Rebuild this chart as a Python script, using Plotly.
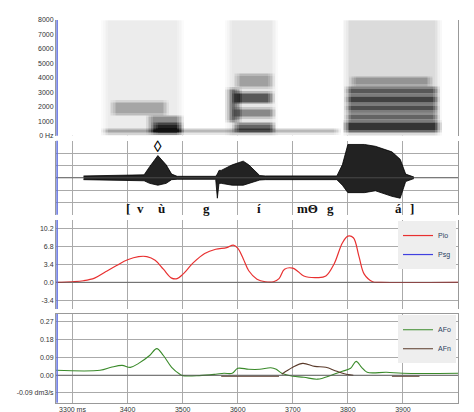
import numpy as np
import plotly.graph_objects as go

# ---- data ----
pio_t = [3270,3280,3300,3320,3340,3360,3380,3400,3420,3435,3450,3465,3480,3490,3500,3520,3540,3560,3580,3592,3600,3610,3620,3635,3650,3665,3675,3685,3700,3710,3720,3745,3760,3775,3790,3800,3810,3820,3830,3845,3860,4000]
pio_v = [0,0,0.1,0.3,0.8,2.0,3.2,4.3,4.9,4.9,4.2,2.5,0.8,0.7,1.5,3.8,5.5,6.3,6.6,7.1,6.5,4.5,2.2,0.6,0.1,0.1,0.7,2.5,2.7,2.0,1.2,0.9,1.2,3.5,7.5,8.8,8.5,5.0,1.5,0.1,0,0]
afo_t = [3270,3350,3370,3390,3405,3420,3440,3453,3465,3480,3495,3500,3530,3560,3575,3590,3600,3620,3640,3660,3670,3680,3700,3720,3745,3770,3790,3805,3815,3825,3835,3870,3900,4000]
afo_v = [0.025,0.025,0.04,0.05,0.04,0.06,0.1,0.135,0.1,0.04,0.005,-0.002,-0.002,0.005,0.01,0.01,0.035,0.03,0.03,0.038,0.03,0.01,-0.005,-0.01,-0.02,0.0,0.02,0.035,0.07,0.04,0.015,0.015,0.01,0.01]
afn_t = [3570,3675,None,3680,3700,3718,3740,3760,3780,3800,3810,None,3880,3930]
afn_v = [-0.005,-0.005,None,0.005,0.04,0.06,0.045,0.04,0.02,0.003,0.0,None,-0.005,-0.005]
# waveform envelope
wav_t  = [3320,3430,3440,3455,3470,3480,3490,3560,3563,3566,3570,3590,3610,3620,3640,3650,3780,3790,3800,3830,3850,3880,3895,3905,3920]
wav_up = [0.05,0.08,0.3,0.6,0.35,0.1,0.04,0.04,0.1,0.2,0.2,0.35,0.45,0.35,0.06,0.05,0.05,0.35,0.9,0.9,0.85,0.7,0.5,0.1,0.02]
wav_lo = [-0.05,-0.08,-0.15,-0.2,-0.15,-0.05,-0.04,-0.04,-0.55,-0.15,-0.15,-0.2,-0.2,-0.15,-0.06,-0.05,-0.05,-0.2,-0.4,-0.4,-0.35,-0.5,-0.55,-0.1,-0.02]
# spectrogram blobs: t0, t1, f0, f1, darkness
blobs = [
    (3358,3496,0,8000,0.08),(3375,3470,1500,2300,0.3),(3440,3495,200,1300,0.4),(3450,3495,200,800,0.45),
    (3358,3780,150,400,0.3),
    (3585,3667,0,8000,0.1),(3595,3660,2300,2900,0.6),(3585,3600,1000,3200,0.5),(3595,3665,1300,1800,0.4),(3595,3665,300,800,0.55),(3600,3660,3400,4200,0.3),
    (3797,3963,0,8000,0.15),(3797,3963,300,900,0.7),(3800,3960,1100,1500,0.5),(3800,3960,1700,2100,0.6),(3800,3960,2300,2700,0.65),(3800,3960,2900,3300,0.55),(3810,3950,3500,4000,0.3),
]
phon_t = [3401,3424,3462,3544,3638,3727,3769,3892,3916]
phon_s = ["[","v","ù","g","í","mΘ","g","á","]"]

# ---- figure ----
fig = go.Figure()
tg = np.arange(3270, 4001, 3)
fg = np.arange(0, 8001, 100)
Z = np.zeros((len(fg), len(tg)))
for t0, t1, f0, f1, lv in blobs:
    Z[np.ix_((fg >= f0) & (fg <= f1), (tg >= t0) & (tg <= t1))] += lv
kt = np.ones(5) / 5
kf = np.ones(3) / 3
Z = np.apply_along_axis(lambda r: np.convolve(r, kt, mode="same"), 1, Z)
Z = np.apply_along_axis(lambda c: np.convolve(c, kf, mode="same"), 0, Z)
Z = np.clip(Z, 0, 1)
fig.add_trace(go.Heatmap(x=tg, y=fg, z=Z, colorscale=[[0,"white"],[1,"#111"]], zmin=0, zmax=1, showscale=False, xaxis="x", yaxis="y4", hoverinfo="skip"))
fig.add_trace(go.Scatter(x=wav_t, y=wav_up, mode="lines", line=dict(color="black", width=0.8), xaxis="x", yaxis="y3", showlegend=False))
fig.add_trace(go.Scatter(x=wav_t, y=wav_lo, mode="lines", line=dict(color="black", width=0.8), fill="tonexty", fillcolor="#222", xaxis="x", yaxis="y3", showlegend=False))
fig.add_trace(go.Scatter(x=pio_t, y=pio_v, mode="lines", name="Pio", line=dict(color="#e83030", width=1.2, shape="spline"), xaxis="x", yaxis="y2", legend="legend"))
fig.add_trace(go.Scatter(x=[None], y=[None], mode="lines", name="Psg", line=dict(color="#4040e0", width=1.2), xaxis="x", yaxis="y2", legend="legend"))
fig.add_trace(go.Scatter(x=afo_t, y=afo_v, mode="lines", name="AFo", line=dict(color="#3a8a2a", width=1.1, shape="spline"), xaxis="x", yaxis="y", legend="legend2"))
fig.add_trace(go.Scatter(x=afn_t, y=afn_v, mode="lines", name="AFn", line=dict(color="#5a3a2a", width=1.1, shape="spline"), xaxis="x", yaxis="y", legend="legend2"))

ax = dict(showgrid=True, gridcolor="#aaaaaa", gridwidth=0.6, showline=True, linecolor="#999", mirror=True, zeroline=False,
          tickfont=dict(size=7, color="#333", family="Arial"), ticks="", layer="above traces")
leg = dict(xanchor="right", yanchor="top", bgcolor="#eeeeee", font=dict(size=7, family="Arial"),
           itemwidth=30, traceorder="normal", tracegroupgap=0)
fig.update_layout(
    width=474, height=412, margin=dict(l=48, r=24, t=6, b=16),
    paper_bgcolor="white", plot_bgcolor="white", showlegend=True,
    xaxis=dict(ax, range=[3270, 4000], tickvals=[3300,3400,3500,3600,3700,3800,3900],
               ticktext=["3300 ms","3400","3500","3600","3700","3800","3900"], anchor="y"),
    yaxis=dict(ax, domain=[0.003,0.233], range=[-0.14,0.31], tickvals=[-0.09,0,0.09,0.18,0.27],
                ticktext=["-0.09 dm3/s","0.00","0.09","0.18","0.27"], anchor="x"),
    yaxis2=dict(ax, domain=[0.246,0.477], range=[-5.1,11.9], tickvals=[-3.4,0,3.4,6.8,10.2],
                ticktext=["-3.4","0.0","3.4","6.8","10.2"], anchor="x"),
    yaxis3=dict(ax, domain=[0.49,0.682], range=[-1,1], tickvals=[-0.66,-0.33,0,0.33,0.66], showticklabels=False, anchor="x"),
    yaxis4=dict(ax, domain=[0.695,0.995], range=[0,8000], tickvals=list(range(0,8001,1000)),
                ticktext=["0 Hz"]+[str(v) for v in range(1000,8001,1000)], anchor="x"),
    legend=dict(leg, x=0.995, y=0.474),
    legend2=dict(leg, x=0.995, y=0.23),
)
for ya in ["y","y2","y3"]:
    fig.add_shape(type="line", xref="x", yref=ya, x0=3270, x1=4000, y0=0, y1=0, line=dict(color="#555", width=0.8))
for ya in ["y","y2","y3","y4"]:
    fig.add_shape(type="line", xref="x", yref=ya+" domain", x0=3272, x1=3272, y0=0, y1=1, line=dict(color="#6070e0", width=1.5))
for t, s in zip(phon_t, phon_s):
    fig.add_annotation(x=t, y=-0.82, xref="x", yref="y3", text="<b>"+s+"</b>", showarrow=False,
                       font=dict(size=13, family="Liberation Serif", color="#111"))
fig.add_annotation(x=3455, y=0.85, xref="x", yref="y3", text="◊", showarrow=False, font=dict(size=16, color="black"))
fig.write_html("out.html")
